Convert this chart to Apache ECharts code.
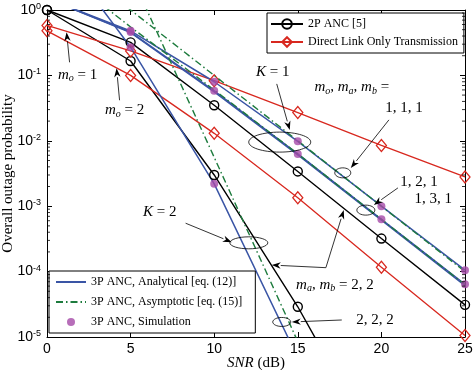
<!DOCTYPE html>
<html><head><meta charset="utf-8">
<script src="https://cdn.jsdelivr.net/npm/echarts@6/dist/echarts.min.js"></script>
<style>html,body{margin:0;padding:0;background:#fff}#c{width:474px;height:370px}</style>
</head><body><div id="c"></div>
<script>
// ---- data ----
const snr = [0, 5, 10, 15, 20, 25];
const xTicks = [0, 5, 10, 15, 20, 25];
const yTickExponents = [0, -1, -2, -3, -4, -5];
// 2P ANC [5]  (m_a, m_b = 2,2)
const anc2pK1 = [1, 0.32, 0.035, 0.0034, 3.2e-4, 3.1e-5];
const anc2pK2 = [1, 0.166, 0.003, 2.9e-5, 1.5e-7, 8e-10];
// Direct link only transmission
const directMo1 = [0.58, 0.237, 0.083, 0.027, 0.0085, 0.0028];
const directMo2 = [0.48, 0.1, 0.013, 0.00135, 1.17e-4, 1.05e-5];
// 3P ANC analytical
const anaK1_111 = [1.5, 0.48, 0.08, 0.0098, 1.0e-3, 1.05e-4];
const anaK1_121 = [1.5, 0.46, 0.058, 0.0063, 6.3e-4, 6.4e-5];
const anaK1_131 = [1.5, 0.45, 0.056, 0.0061, 6.1e-4, 6.1e-5];
const anaK2_222 = [14, 0.27, 0.0022, 4.8e-6, 1e-8, 2e-11];
// 3P ANC asymptotic
const asyK1_111 = [10, 1, 0.1, 0.01, 1e-3, 1e-4];
const asyK1_121 = [5.5, 0.55, 0.06, 0.0063, 6.3e-4, 6.3e-5];
const asyK2_222 = [2000, 3.5, 0.0056, 8.5e-6, 1.5e-8, 2.5e-11];
// 3P ANC simulation
const simK1_111 = [null, 0.48, 0.08, 0.0098, 1.0e-3, 1.05e-4];
const simK1_121 = [null, 0.46, 0.058, 0.0063, 6.3e-4, 6.4e-5];
const simK2_222 = [null, 0.27, 0.0022, null, null, null];

const NAME_2P = '2P ANC [5]';
const NAME_DL = 'Direct Link Only Transmission';
const NAME_AN = '3P ANC, Analytical [eq. (12)]';
const NAME_AS = '3P ANC, Asymptotic [eq. (15)]';
const NAME_SI = '3P ANC, Simulation';

const C = {black:'#000000', red:'#d8281f', blue:'#3a55a5', green:'#1d7b3d', purple:'#a54aa8'};
const serif = "'Liberation Serif','DejaVu Serif',serif";
const sans = "'Liberation Sans','DejaVu Sans',sans-serif";
const pair = a => snr.map((x, i) => [x, a[i]]).filter(d => d[1] != null);

function ln(name, arr, color, extra) {
  return Object.assign({
    type: 'line', name, data: pair(arr), symbol: 'none', clip: true, animation: false,
    lineStyle: {color, width: 1.3}, itemStyle: {color}, z: 2
  }, extra || {});
}
const blackOpts = {symbol: 'circle', symbolSize: 9, showSymbol: true,
  itemStyle: {color: 'rgba(255,255,255,0)', borderColor: C.black, borderWidth: 1.4},
  lineStyle: {color: C.black, width: 1.4}, z: 3};
const redOpts = {symbol: 'diamond', symbolSize: [10, 12], showSymbol: true,
  itemStyle: {color: 'rgba(255,255,255,0)', borderColor: C.red, borderWidth: 1.3},
  lineStyle: {color: C.red, width: 1.3}, z: 3};
const dashDot = [7, 3, 1.5, 3];
const greenOpts = {lineStyle: {color: C.green, width: 1.4, type: dashDot}, z: 4};
const blueOpts = {lineStyle: {color: C.blue, width: 1.5}, z: 3};

const simData = [].concat(pair(simK1_111), pair(simK1_121), pair(simK2_222));

const series = [
  ln(NAME_2P, anc2pK1, C.black, blackOpts),
  ln(NAME_2P, anc2pK2, C.black, blackOpts),
  ln(NAME_DL, directMo1, C.red, redOpts),
  ln(NAME_DL, directMo2, C.red, redOpts),
  ln(NAME_AN, anaK1_111, C.blue, blueOpts),
  ln(NAME_AN, anaK1_121, C.blue, blueOpts),
  ln(NAME_AN, anaK1_131, C.blue, blueOpts),
  ln(NAME_AN, anaK2_222, C.blue, blueOpts),
  ln(NAME_AS, asyK1_111, C.green, greenOpts),
  ln(NAME_AS, asyK1_121, C.green, greenOpts),
  ln(NAME_AS, asyK2_222, C.green, greenOpts),
  {type: 'scatter', name: NAME_SI, data: simData, symbol: 'circle', symbolSize: 8,
   itemStyle: {color: C.purple}, z: 6, animation: false}
];

const axisBase = {
  axisLine: {show: true, onZero: false, lineStyle: {color: '#000', width: 1}},
  axisTick: {show: true, inside: true, length: 5, lineStyle: {color: '#000', width: 1}},
  splitLine: {show: false}
};

const chart = echarts.init(document.getElementById('c'));
chart.setOption({
  animation: false,
  backgroundColor: '#fff',
  grid: {left: 47, right: 9, top: 10, bottom: 33, containLabel: false, outerBoundsMode: 'none'},
  xAxis: [
    Object.assign({type: 'value', min: xTicks[0], max: xTicks[xTicks.length - 1], interval: 5, position: 'bottom',
      axisLabel: {color: '#000', fontFamily: sans, fontSize: 14, margin: 5,
        formatter: v => xTicks.includes(v) ? String(v) : ''},
      name: '{i|SNR} (dB)', nameLocation: 'middle', nameGap: 19, nameMoveOverlap: false,
      nameTextStyle: {color: '#000', fontFamily: serif, fontSize: 15,
        rich: {i: {fontFamily: serif, fontStyle: 'italic', fontSize: 15, color: '#000'}}}
    }, axisBase),
    Object.assign({type: 'value', min: 0, max: 25, interval: 5, position: 'top',
      axisLabel: {show: false}}, axisBase)
  ],
  yAxis: [
    Object.assign({type: 'log', logBase: 10, min: 1e-5, max: 1, position: 'left',
      axisLabel: {color: '#000', margin: 6,
        formatter: v => { const e = Math.round(Math.log10(v));
          return yTickExponents.includes(e) ? '{b|10}{s|' + e + '}' : ''; },
        rich: {b: {fontFamily: sans, fontSize: 14, color: '#000', lineHeight: 16},
               s: {fontFamily: sans, fontSize: 9, color: '#000', verticalAlign: 'top', lineHeight: 10}}},
      name: 'Overall outage probability', nameLocation: 'middle', nameGap: 31, nameRotate: 90,
      nameMoveOverlap: false,
      nameTextStyle: {color: '#000', fontFamily: serif, fontSize: 15}
    }, axisBase),
    Object.assign({type: 'log', logBase: 10, min: 1e-5, max: 1, position: 'right',
      axisLabel: {show: false}}, axisBase)
  ],
  legend: [
    {data: [NAME_2P, NAME_DL], orient: 'vertical', left: 267, top: 13,
     itemWidth: 32, itemHeight: 12, itemGap: 6, padding: [5, 6, 5, 3],
     borderColor: '#000', borderWidth: 1, backgroundColor: '#fff',
     textStyle: {fontFamily: serif, fontSize: 12, color: '#000'}, selectedMode: false},
    {data: [{name: NAME_AN, itemStyle: {opacity: 0}}, {name: NAME_AS, itemStyle: {opacity: 0}}, NAME_SI],
     orient: 'vertical', left: 49, top: 271,
     itemWidth: 30, itemHeight: 8, itemGap: 8, padding: [5, 13, 5, 6],
     borderColor: '#000', borderWidth: 1, backgroundColor: '#fff',
     textStyle: {fontFamily: serif, fontSize: 12, color: '#000'}, selectedMode: false}
  ],
  series
});

// ---- decorations: minor log ticks and annotations (anchored in data units) ----
const P = (x, lg) => chart.convertToPixel({xAxisIndex: 0, yAxisIndex: 0}, [x, Math.pow(10, lg)]);
const g = [];
const xl = P(0, 0)[0], xr = P(25, 0)[0];
for (let e = -5; e < 0; e++) {
  for (let k = 2; k <= 9; k++) {
    const y = P(0, e + Math.log10(k))[1];
    g.push({type: 'line', shape: {x1: xl, y1: y, x2: xl + 3, y2: y}, style: {stroke: '#000', lineWidth: 0.8}, z: 10});
    g.push({type: 'line', shape: {x1: xr, y1: y, x2: xr - 3, y2: y}, style: {stroke: '#000', lineWidth: 0.8}, z: 10});
  }
}
const rich = {
  i: {fontFamily: serif, fontStyle: 'italic', fontSize: 15, lineHeight: 18, fill: '#000'},
  t: {fontFamily: serif, fontSize: 15, lineHeight: 18, fill: '#000'},
  s: {fontFamily: serif, fontStyle: 'italic', fontSize: 10, lineHeight: 12, verticalAlign: 'bottom', fill: '#000'}
};
function txt(at, text) {
  const p = P(at[0], at[1]);
  g.push({type: 'text', x: p[0], y: p[1], z: 12,
    style: {text, rich, align: 'center', verticalAlign: 'middle', fill: '#000', font: '15px ' + serif}});
}
function head(tail, tip) {
  const dx = tip[0] - tail[0], dy = tip[1] - tail[1], L = Math.hypot(dx, dy);
  const ux = dx / L, uy = dy / L, hl = 9, hw = 3.2;
  const b = [tip[0] - ux * hl, tip[1] - uy * hl];
  g.push({type: 'polygon', z: 12, shape: {points: [tip, [b[0] - uy * hw, b[1] + ux * hw], [tip[0] - ux * hl * 0.7, tip[1] - uy * hl * 0.7], [b[0] + uy * hw, b[1] - ux * hw]]},
    style: {fill: '#000'}});
  return b;
}
function arrow(from, to) {
  const a = P(from[0], from[1]), b = P(to[0], to[1]);
  const base = head(a, b);
  g.push({type: 'line', z: 11, shape: {x1: a[0], y1: a[1], x2: base[0], y2: base[1]}, style: {stroke: '#000', lineWidth: 0.8}});
}
function ell(at, rx, ry) {
  const p = P(at[0], at[1]);
  g.push({type: 'ellipse', z: 11, shape: {cx: p[0], cy: p[1], rx, ry}, style: {fill: 'none', stroke: '#000', lineWidth: 0.8}});
}
txt([1.83, -0.99], '{i|m}{s|o}{t| = 1}');
arrow([1.35, -0.80], [1.17, -0.34]);
txt([4.64, -1.53], '{i|m}{s|o}{t| = 2}');
arrow([4.34, -1.38], [4.16, -0.89]);
txt([13.5, -0.95], '{i|K}{t| = 1}');
arrow([13.74, -1.13], [14.52, -1.835]);
ell([13.92, -2.02], 31, 10);
txt([18.23, -1.18], '{i|m}{s|o}{t|, }{i|m}{s|a}{t|, }{i|m}{s|b}{t| =}');
txt([21.35, -1.5], '{t|1, 1, 1}');
arrow([20.45, -1.68], [18.17, -2.415]);
ell([17.69, -2.49], 8, 5);
txt([22.25, -2.63], '{t|1, 2, 1}');
txt([23.1, -2.89], '{t|1, 3, 1}');
arrow([20.99, -2.72], [19.55, -2.98]);
ell([19.07, -3.06], 9, 5);
txt([6.74, -3.09], '{i|K}{t| = 2}');
arrow([8.29, -3.26], [11.05, -3.55]);
ell([12.07, -3.56], 19, 6);
txt([17.22, -4.2], '{i|m}{s|a}{t|, }{i|m}{s|b}{t| = 2, 2}');
(function () {
  const a = P(13.44, -3.9), m = P(16.68, -3.94), c = P(17.75, -3.06);
  const b1 = head(m, a), b2 = head(m, c);
  g.push({type: 'polyline', z: 11, shape: {points: [b1, m, b2]}, style: {stroke: '#000', lineWidth: 0.8, fill: 'none'}});
})();
txt([19.61, -4.74], '{t|2, 2, 2}');
arrow([17.63, -4.74], [14.64, -4.77]);
ell([14.04, -4.77], 9, 4.5);

chart.setOption({graphic: g});
</script></body></html>
